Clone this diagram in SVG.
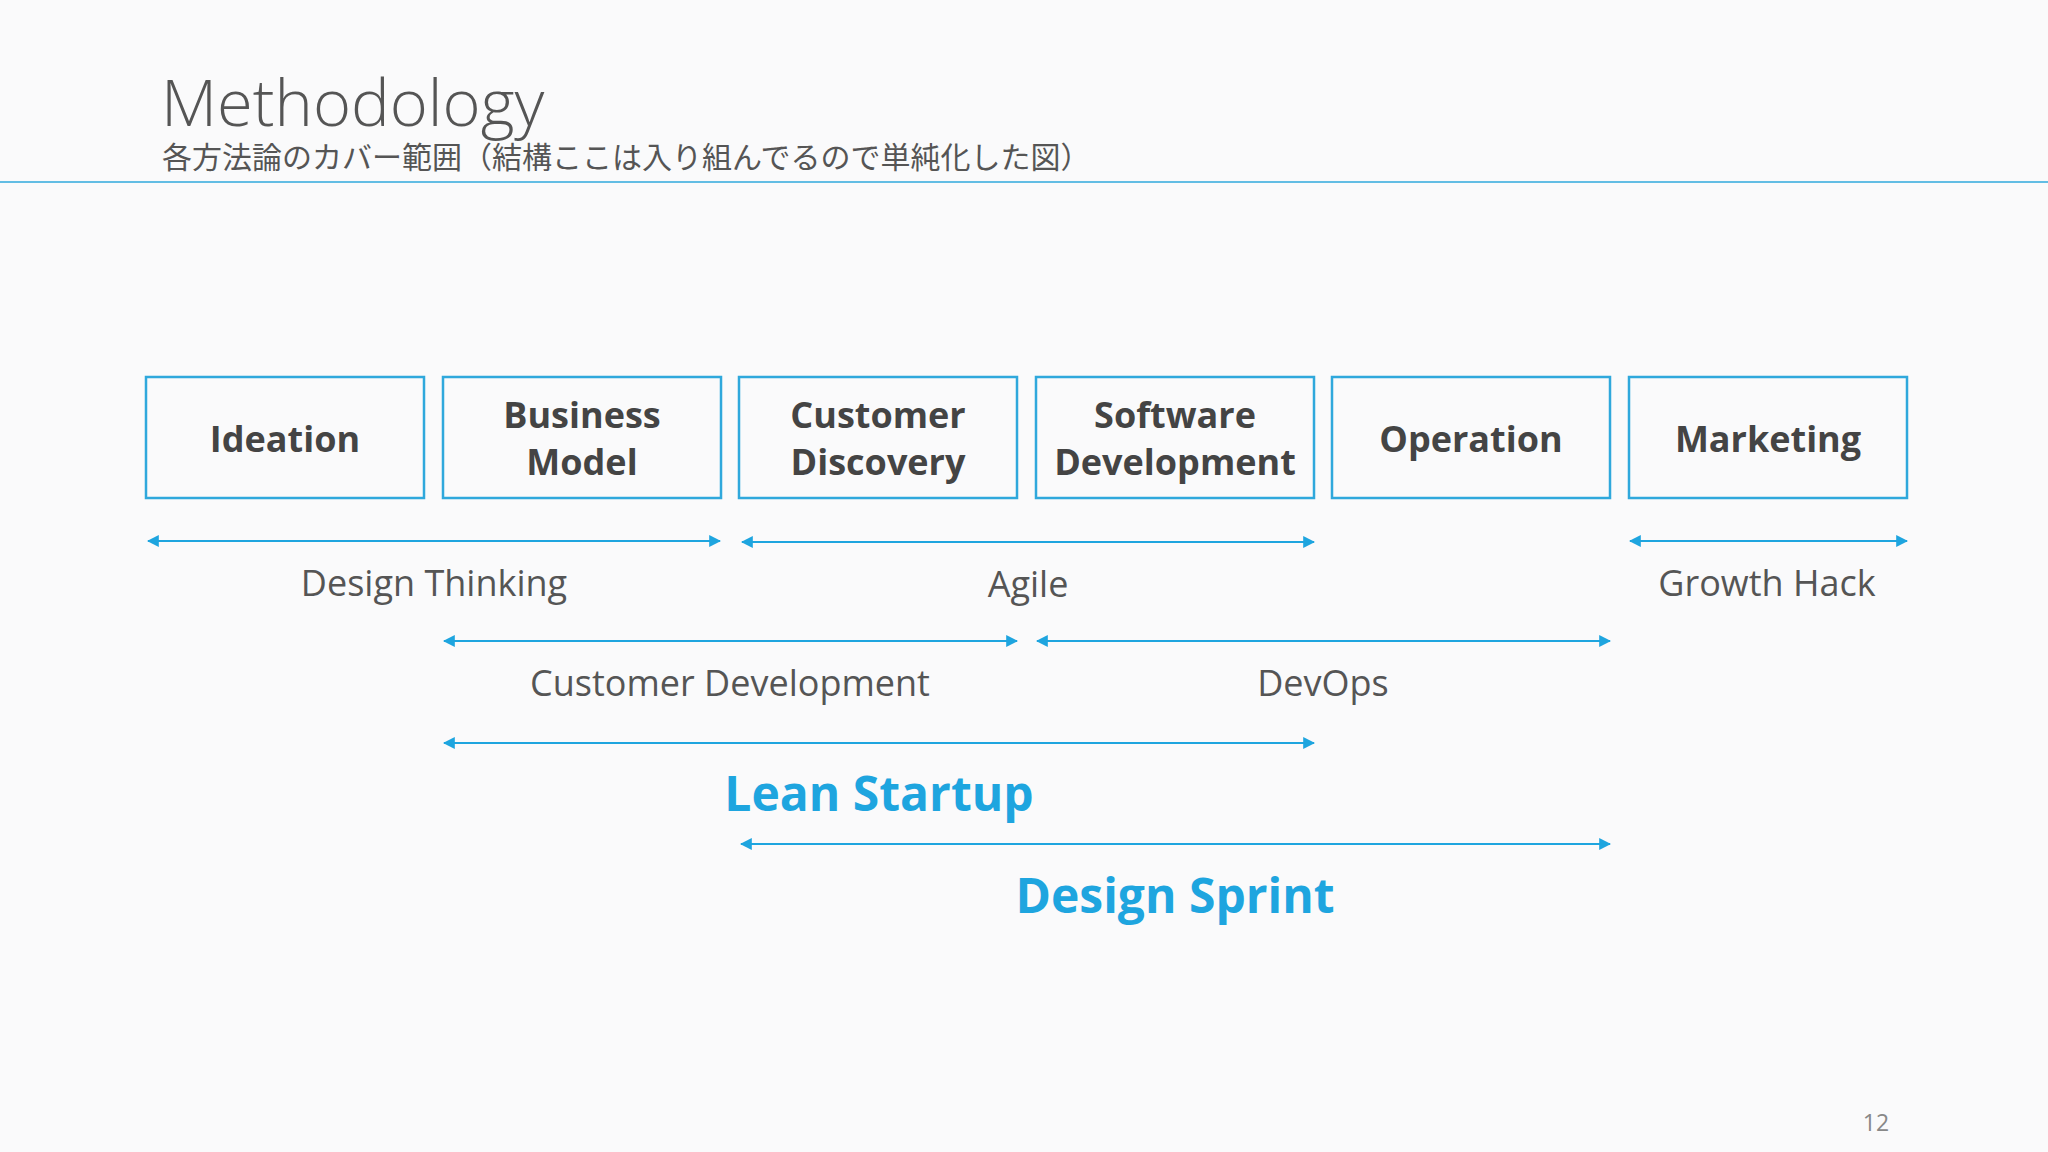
<svg xmlns="http://www.w3.org/2000/svg" width="2048" height="1152" viewBox="0 0 2048 1152">
<style>
.box{fill:none;stroke:#2fa8dc;stroke-width:2.5}
.bt{font-family:"Open Sans","Noto Sans",sans-serif;font-weight:700;font-size:36px;fill:#444;text-anchor:middle}
.lb{font-family:"Open Sans","Noto Sans",sans-serif;font-size:36px;fill:#555;text-anchor:middle}
.big{font-family:"Open Sans","Noto Sans",sans-serif;font-weight:700;font-size:48px;fill:#1ea5df;text-anchor:middle}
.ar{stroke:#1ea5df;stroke-width:2;marker-start:url(#a);marker-end:url(#a)}
</style>
<defs><marker id="a" viewBox="0 0 10 10" refX="9" refY="5" markerWidth="6" markerHeight="6" orient="auto-start-reverse"><path d="M0,0L10,5L0,10z" fill="#1ea5df"/></marker></defs>
<rect width="2048" height="1152" fill="#fafafb"/>
<text x="161" y="126" font-family="'Open Sans','Noto Sans',sans-serif" font-size="65" font-weight="300" fill="#555">Methodology</text>
<text x="162" y="168" font-family="'Noto Sans CJK JP',sans-serif" font-size="30" fill="#555">各方法論のカバー範囲（結構ここは入り組んでるので単純化した図）</text>
<line x1="0" y1="182" x2="2048" y2="182" stroke="#2fa8dc" stroke-width="1.5"/>
<g id="n1"><rect class="box" x="146" y="377" width="278" height="121"/><text class="bt" x="285" y="452">Ideation</text></g>
<g id="n2"><rect class="box" x="443" y="377" width="278" height="121"/><text class="bt" x="582" y="428">Business</text><text class="bt" x="582" y="475">Model</text></g>
<g id="n3"><rect class="box" x="739" y="377" width="278" height="121"/><text class="bt" x="878" y="428">Customer</text><text class="bt" x="878" y="475">Discovery</text></g>
<g id="n4"><rect class="box" x="1036" y="377" width="278" height="121"/><text class="bt" x="1175" y="428">Software</text><text class="bt" x="1175" y="475">Development</text></g>
<g id="n5"><rect class="box" x="1332" y="377" width="278" height="121"/><text class="bt" x="1471" y="452">Operation</text></g>
<g id="n6"><rect class="box" x="1629" y="377" width="278" height="121"/><text class="bt" x="1768" y="452">Marketing</text></g>
<g id="connectors">
<line class="ar" x1="148" y1="541" x2="720" y2="541"/>
<line class="ar" x1="742" y1="542" x2="1314" y2="542"/>
<line class="ar" x1="1630" y1="541" x2="1907" y2="541"/>
<line class="ar" x1="444" y1="641" x2="1017" y2="641"/>
<line class="ar" x1="1037" y1="641" x2="1610" y2="641"/>
<line class="ar" x1="444" y1="743" x2="1314" y2="743"/>
<line class="ar" x1="741" y1="844" x2="1610" y2="844"/>
</g>
<text class="lb" x="434" y="596">Design Thinking</text>
<text class="lb" x="1028" y="597">Agile</text>
<text class="lb" x="1767" y="596">Growth Hack</text>
<text class="lb" x="730" y="696">Customer Development</text>
<text class="lb" x="1323" y="696">DevOps</text>
<text class="big" x="879" y="811">Lean Startup</text>
<text class="big" x="1175" y="913">Design Sprint</text>
<text x="1876" y="1131" font-family="'Open Sans',sans-serif" font-size="23" fill="#888" text-anchor="middle">12</text>
</svg>
